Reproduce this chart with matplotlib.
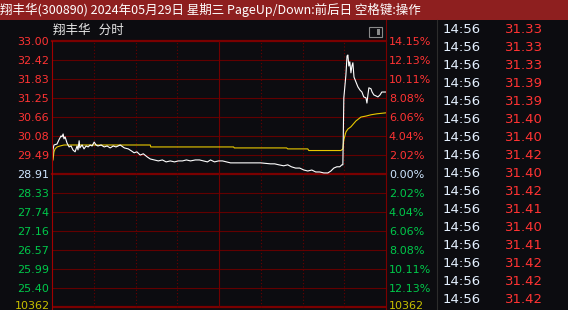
import matplotlib
matplotlib.use("Agg")
import matplotlib.pyplot as plt
from matplotlib.patches import Rectangle
from matplotlib.lines import Line2D

W, H = 568, 310
prev_close = 28.91

# price grid labels (left) and percent labels (right)
price_levels = [33.00, 32.42, 31.83, 31.25, 30.66, 30.08, 29.49, 28.91,
                28.33, 27.74, 27.16, 26.57, 25.99, 25.40]
pct_labels = ["14.15%", "12.13%", "10.11%", "8.08%", "6.06%", "4.04%", "2.02%", "0.00%",
              "2.02%", "4.04%", "6.06%", "8.08%", "10.11%", "12.13%"]

# minutes since 9:30 on the trading axis (120 = 11:30/13:00, 240 = 15:00)
price_t = [0, 0.7, 1.4, 3.6, 5, 6.5, 7.2, 8, 8.6, 9.4, 10.8, 12.3, 13.7, 15, 16.6, 18, 18.7,
           19.5, 20, 21.6, 23, 24.5, 26, 27.4, 28.8, 30.3, 31.7, 33, 35.3, 37.5, 39.6, 41.8,
           44, 46, 49, 52, 54.8, 57, 59, 61, 63.4, 65.6, 68.5, 70.6, 73.5, 76.4, 79.3, 82,
           85, 88, 90.8, 93.7, 96.6, 99.5, 103, 106, 108.8, 111.7, 113.9, 116.8, 119.6,
           122.5, 125.4, 128.3, 132, 139, 146.3, 150, 157, 160, 163, 166.5, 169.4, 172, 175,
           178, 181, 183.8, 186.7, 189.5, 192.4, 195.3, 198.2, 200.4, 202.5, 204.7, 206.8,
           208.3, 209, 209.7, 211.2, 212, 212.6, 213.3, 214, 214.8, 215.5, 216.2, 217, 218.4,
           219.8, 221.3, 222.7, 224, 225.6, 226.3, 227, 227.7, 229.2, 230, 231.3, 232.8,
           234.2, 235.7, 237, 238.6, 240]
price_v = [28.97, 29.65, 29.80, 29.83, 29.96, 30.08, 30.05, 30.14, 29.99, 30.05, 29.86, 29.74,
           29.77, 29.65, 29.59, 29.77, 29.65, 29.93, 29.71, 29.80, 29.68, 29.77, 29.74, 29.80,
           29.77, 29.89, 29.80, 29.77, 29.80, 29.74, 29.77, 29.71, 29.77, 29.74, 29.80, 29.71,
           29.68, 29.62, 29.56, 29.59, 29.49, 29.53, 29.43, 29.37, 29.34, 29.31, 29.34, 29.28,
           29.31, 29.28, 29.31, 29.31, 29.34, 29.31, 29.34, 29.34, 29.31, 29.28, 29.34, 29.28,
           29.31, 29.31, 29.28, 29.25, 29.25, 29.25, 29.25, 29.25, 29.22, 29.22, 29.19, 29.16,
           29.19, 29.13, 29.09, 29.09, 29.03, 29.00, 29.03, 28.97, 28.97, 28.94, 28.94, 29.00,
           29.09, 29.13, 29.13, 29.19, 29.19, 31.25, 31.96, 32.54, 32.57, 32.23, 32.36, 32.02,
           32.23, 32.33, 31.89, 31.74, 31.59, 31.49, 31.43, 31.28, 31.25, 31.09, 31.34, 31.56,
           31.53, 31.43, 31.34, 31.31, 31.28, 31.34, 31.43, 31.43, 31.43]

avg_t = [0.7, 1.4, 2.2, 3.6, 5.8, 8.6, 70.6, 71, 130.5, 131, 168.6, 169.4, 183.8, 184.5,
         207.6, 209, 209.7, 211.2, 212.6, 214.8, 218.4, 222, 225.6, 229.2, 233.5, 240]
avg_v = [29.34, 29.59, 29.68, 29.74, 29.77, 29.80, 29.80, 29.74, 29.74, 29.71, 29.71, 29.68,
         29.68, 29.63, 29.63, 29.68, 29.96, 30.20, 30.29, 30.36, 30.54, 30.66, 30.69, 30.73,
         30.76, 30.79]

vol_max = "10362"
tick_times = ["14:56"] * 16
tick_prices = ["31.33", "31.33", "31.33", "31.39", "31.39", "31.40", "31.40", "31.42",
               "31.40", "31.42", "31.41", "31.40", "31.41", "31.42", "31.42", "31.42"]

header = "翔丰华(300890) 2024年05月29日 星期三 PageUp/Down:前后日 空格键:操作"
title = "翔丰华   分时"

bg = "#0c0c10"
grid_c = "#620000"
red_c = "#ff3333"
green_c = "#00c84a"
flat_c = "#cfe6ff"
cjk = ["Noto Sans CJK SC", "DejaVu Sans"]

def fx(x):
    return x / W

def fy(y):
    return 1 - y / H

fig = plt.figure(figsize=(W / 100, H / 100), dpi=100, facecolor=bg)

# price pane: 33.00 at y=41px, 32.5 px per yuan
px_per_yuan = 32.5
ax = fig.add_axes([fx(52), 0, fx(386) - fx(52), fy(41)])
ax.set_facecolor(bg)
ax.set_xlim(0, 240)
ax.set_ylim(33.00 - 269 / px_per_yuan, 33.00)
for s in ax.spines.values():
    s.set_visible(False)

for lvl in price_levels:
    thick = lvl == prev_close or lvl == 33.00
    ax.axhline(lvl, color="#7a0000" if thick else grid_c, lw=1.6 if thick else 0.8,
               clip_on=False, zorder=1)
ax.axhline(33.00 - 266 / px_per_yuan, color="#7a0000", lw=1.6, zorder=1)

ymin_frac = 3 / 269
for t in [30, 60, 90, 150, 180, 210]:
    ax.axvline(t, ymin=ymin_frac, color="#6a0000", lw=0.8, ls=(0, (1, 2)), zorder=1)
ax.axvline(120, ymin=ymin_frac, color="#700000", lw=0.8, zorder=1)

ax.plot(avg_t, avg_v, color="#e8c800", lw=0.8, zorder=3)
ax.plot(price_t, price_v, color="white", lw=0.8, zorder=4)

ax.set_xticks([])
ax.set_yticks(price_levels)
ax.set_yticklabels([f"{v:.2f}" for v in price_levels])
ax.tick_params(axis="y", length=0, pad=2, labelsize=8)
for lab, v in zip(ax.get_yticklabels(), price_levels):
    lab.set_color(red_c if v > prev_close else green_c if v < prev_close else flat_c)

ax2 = ax.twinx()
ax2.set_ylim(ax.get_ylim())
for s in ax2.spines.values():
    s.set_visible(False)
ax2.set_yticks(price_levels)
ax2.set_yticklabels(pct_labels)
ax2.tick_params(axis="y", length=0, pad=2, labelsize=8)
for lab, v in zip(ax2.get_yticklabels(), price_levels):
    lab.set_color(red_c if v > prev_close else green_c if v < prev_close else flat_c)

vol_y = 33.00 - 265 / px_per_yuan
ax.text(-2 / 334, vol_y, vol_max, transform=ax.get_yaxis_transform(), ha="right",
        va="center", color="#c8c000", fontsize=8, clip_on=False)
ax.text(1 + 3 / 334, vol_y, vol_max, transform=ax.get_yaxis_transform(), ha="left",
        va="center", color="#c8c000", fontsize=8, clip_on=False)

# frame lines
fig.add_artist(Line2D([fx(52)] * 2, [fy(41), 0], color="#a00000", lw=0.8))
fig.add_artist(Line2D([fx(386)] * 2, [fy(20), 0], color="#7a0000", lw=0.8))
fig.add_artist(Line2D([fx(437)] * 2, [fy(20), 0], color="#2c2c2c", lw=0.8))

# header bar
fig.add_artist(Rectangle((0, fy(20)), 1, 20 / H, transform=fig.transFigure,
                         color="#8e1f1f", lw=0))
fig.text(fx(0), fy(10), header, color="white", fontsize=9, family=cjk,
         ha="left", va="center")
fig.text(fx(53), fy(30), title, color="#e6e6e6", fontsize=9, family=cjk,
         ha="left", va="center")

# small toggle button
fig.add_artist(Rectangle((fx(369), fy(37)), 13 / W, 10 / H, transform=fig.transFigure,
                         fill=False, edgecolor="#8a8a8a", lw=0.8))
fig.add_artist(Rectangle((fx(377), fy(35)), 3 / W, 6 / H, transform=fig.transFigure,
                         color="#8a8a8a", lw=0))

# tick list
for i, (tm, pr) in enumerate(zip(tick_times, tick_prices)):
    yy = 29.5 + 18.03 * i
    fig.text(fx(443), fy(yy), tm, color="#e4f0ff", fontsize=9.5, ha="left", va="center")
    fig.text(fx(543), fy(yy), pr, color=red_c, fontsize=9.5, ha="right", va="center")

fig.savefig("out.png", dpi=100, facecolor=bg)
